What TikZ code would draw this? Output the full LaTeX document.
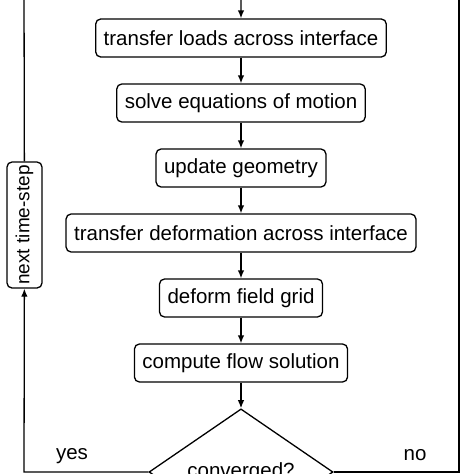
\documentclass[tikz,border=0pt]{standalone}
\usepackage{fontspec}
\setmainfont{Liberation Sans}
\usetikzlibrary{arrows,arrows.meta,shapes}
\usetikzlibrary{calc}
\tikzstyle{stagebox}=[rectangle,rounded corners=5pt,draw,line width=1.3pt,minimum height=38pt,inner xsep=8pt,font=\fontsize{20.5}{24}\selectfont]
\tikzstyle{decision}=[diamond,draw,line width=1.3pt,minimum width=184pt,minimum height=94pt,inner sep=0pt,font=\fontsize{20.5}{24}\selectfont]
\tikzstyle{loopbox}=[rectangle,rounded corners=5pt,draw,line width=1.3pt,rotate=90,minimum width=126pt,minimum height=35pt,inner sep=2pt,font=\fontsize{19}{22}\selectfont]
\tikzstyle{flowline} = [draw,line width=1.3pt,-{Latex[length=8pt,width=6.5pt]}]
\tikzstyle{plainline} = [draw,line width=1.3pt]
\tikzstyle{answer} = [font=\fontsize{20.5}{24}\selectfont]
\begin{document}
\begin{tikzpicture}[x=1pt,y=-1pt]

   \useasboundingbox (0,0) rectangle (474,474);
   \clip (0,0) rectangle (474,474);

   \def\cx{241}
   \def\lx{24}
   \def\rx{459}
   \def\dy{65}

%steps
    \foreach \pos/\name/\text in {{(\cx,38)/loads/transfer loads across interface}, {(\cx,38+\dy)/motion/solve equations of motion}, {(\cx,38+2*\dy)/geom/update geometry}, {(\cx,38+3*\dy)/deform/transfer deformation across interface}, {(\cx,38+4*\dy)/grid/deform field grid}, {(\cx,38+5*\dy)/flow/compute flow solution}}
        \node[stagebox] (\name) at \pos {\text};

    \node[decision] (conv) at (\cx,472) {converged?};

    % Connect steps
    \foreach \source/ \dest in {loads/motion, motion/geom, geom/deform, deform/grid, grid/flow, flow/conv}
        \path[flowline] (\source) -- (\dest);

%loop back
    \node[loopbox] (next) at (\lx+0.5,225) {next time-step};

    \coordinate (topmid) at (\cx,-15);
    \coordinate (lefttop) at (\lx,-15);
    \coordinate (righttop) at (\rx,-15);
    \coordinate (leftbot) at (\lx,472);
    \coordinate (rightbot) at (\rx,472);

    \path[flowline] (conv.west) -- (leftbot) -- (next);
    \path[flowline] (next) -- (lefttop) -- (topmid) -- (loads);
    \path[plainline] (conv.east) -- (rightbot) -- (righttop) -- (topmid);

% Label
    \node[answer] (yes) at (72,456) {yes};
    \node[answer] (no) at (415,455) {no};

\end{tikzpicture}
\end{document}
